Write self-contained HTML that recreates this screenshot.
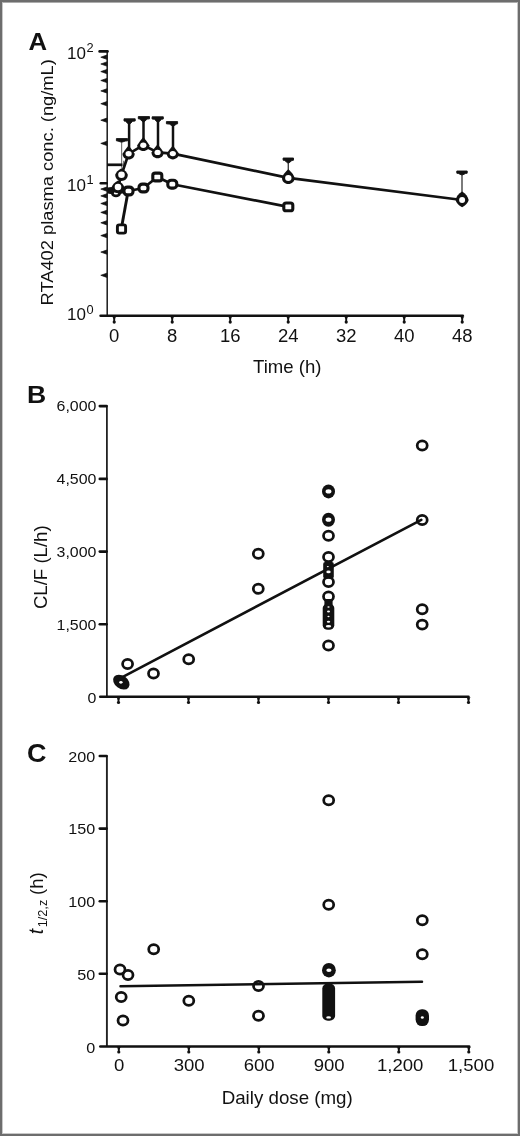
<!DOCTYPE html>
<html lang="en">
<head>
<meta charset="utf-8">
<title>Figure</title>
<style>
html,body{margin:0;padding:0;background:#fff;}
body{width:520px;height:1136px;overflow:hidden;position:relative;}
#frame{position:absolute;left:0;top:0;width:516px;height:1132px;border:2px solid #6d6d6d;background:#fff;}
#frame2{position:absolute;left:2px;top:2px;width:514px;height:1130px;border:1px solid #c8c8c8;border-top-color:#acacac;background:#fff;}
svg{position:absolute;left:0;top:0;display:block;}
</style>
</head>
<body>
<div id="frame"></div>
<div id="frame2"></div>
<svg width="520" height="1136" viewBox="0 0 520 1136">
<line x1="107.2" y1="50.5" x2="107.2" y2="315.8" stroke="#1a1a1a" stroke-width="1.5"/>
<line x1="100.6" y1="315.8" x2="462.8" y2="315.8" stroke="#111" stroke-width="2.6" stroke-linecap="round"/>
<line x1="99.6" y1="51.4" x2="107.5" y2="51.4" stroke="#111" stroke-width="2.6" stroke-linecap="round"/>
<line x1="100.8" y1="183.2" x2="106.6" y2="183.2" stroke="#111" stroke-width="2.6" stroke-linecap="round"/>
<polygon points="100.8,143.4 106.8,141.3 106.8,145.5" fill="#111" stroke="#111" stroke-width="0.7" stroke-linejoin="round"/>
<polygon points="100.8,120.2 106.8,118.1 106.8,122.3" fill="#111" stroke="#111" stroke-width="0.7" stroke-linejoin="round"/>
<polygon points="100.8,103.7 106.8,101.6 106.8,105.8" fill="#111" stroke="#111" stroke-width="0.7" stroke-linejoin="round"/>
<polygon points="100.8,90.9 106.8,88.8 106.8,93.0" fill="#111" stroke="#111" stroke-width="0.7" stroke-linejoin="round"/>
<polygon points="100.8,80.5 106.8,78.4 106.8,82.6" fill="#111" stroke="#111" stroke-width="0.7" stroke-linejoin="round"/>
<polygon points="100.8,71.6 106.8,69.5 106.8,73.7" fill="#111" stroke="#111" stroke-width="0.7" stroke-linejoin="round"/>
<polygon points="100.8,64.0 106.8,61.9 106.8,66.1" fill="#111" stroke="#111" stroke-width="0.7" stroke-linejoin="round"/>
<polygon points="100.8,57.2 106.8,55.1 106.8,59.3" fill="#111" stroke="#111" stroke-width="0.7" stroke-linejoin="round"/>
<polygon points="100.8,275.3 106.8,273.2 106.8,277.4" fill="#111" stroke="#111" stroke-width="0.7" stroke-linejoin="round"/>
<polygon points="100.8,252.1 106.8,250.0 106.8,254.2" fill="#111" stroke="#111" stroke-width="0.7" stroke-linejoin="round"/>
<polygon points="100.8,235.6 106.8,233.5 106.8,237.7" fill="#111" stroke="#111" stroke-width="0.7" stroke-linejoin="round"/>
<polygon points="100.8,222.8 106.8,220.7 106.8,224.9" fill="#111" stroke="#111" stroke-width="0.7" stroke-linejoin="round"/>
<polygon points="100.8,212.4 106.8,210.3 106.8,214.5" fill="#111" stroke="#111" stroke-width="0.7" stroke-linejoin="round"/>
<polygon points="100.8,203.5 106.8,201.4 106.8,205.6" fill="#111" stroke="#111" stroke-width="0.7" stroke-linejoin="round"/>
<polygon points="100.8,195.9 106.8,193.8 106.8,198.0" fill="#111" stroke="#111" stroke-width="0.7" stroke-linejoin="round"/>
<polygon points="100.8,189.1 106.8,187.0 106.8,191.2" fill="#111" stroke="#111" stroke-width="0.7" stroke-linejoin="round"/>
<path d="M111.9,316.7 Q113.3,317.0 113.3,318.8 L115.1,318.8 Q115.1,317.0 116.5,316.7Z" fill="#111"/><line x1="114.2" y1="315.8" x2="114.2" y2="322.1" stroke="#111" stroke-width="1.9"/><circle cx="114.2" cy="322.1" r="1.6" fill="#111"/>
<text transform="translate(114.2,342) scale(1.05,1)" font-size="17.6" text-anchor="middle" font-family="Liberation Sans, sans-serif" fill="#111" >0</text>
<path d="M169.9,316.7 Q171.3,317.0 171.3,318.8 L173.1,318.8 Q173.1,317.0 174.5,316.7Z" fill="#111"/><line x1="172.2" y1="315.8" x2="172.2" y2="322.1" stroke="#111" stroke-width="1.9"/><circle cx="172.2" cy="322.1" r="1.6" fill="#111"/>
<text transform="translate(172.2,342) scale(1.05,1)" font-size="17.6" text-anchor="middle" font-family="Liberation Sans, sans-serif" fill="#111" >8</text>
<path d="M227.9,316.7 Q229.3,317.0 229.3,318.8 L231.1,318.8 Q231.1,317.0 232.5,316.7Z" fill="#111"/><line x1="230.2" y1="315.8" x2="230.2" y2="322.1" stroke="#111" stroke-width="1.9"/><circle cx="230.2" cy="322.1" r="1.6" fill="#111"/>
<text transform="translate(230.2,342) scale(1.05,1)" font-size="17.6" text-anchor="middle" font-family="Liberation Sans, sans-serif" fill="#111" >16</text>
<path d="M285.9,316.7 Q287.3,317.0 287.3,318.8 L289.1,318.8 Q289.1,317.0 290.5,316.7Z" fill="#111"/><line x1="288.2" y1="315.8" x2="288.2" y2="322.1" stroke="#111" stroke-width="1.9"/><circle cx="288.2" cy="322.1" r="1.6" fill="#111"/>
<text transform="translate(288.2,342) scale(1.05,1)" font-size="17.6" text-anchor="middle" font-family="Liberation Sans, sans-serif" fill="#111" >24</text>
<path d="M343.9,316.7 Q345.3,317.0 345.3,318.8 L347.1,318.8 Q347.1,317.0 348.5,316.7Z" fill="#111"/><line x1="346.2" y1="315.8" x2="346.2" y2="322.1" stroke="#111" stroke-width="1.9"/><circle cx="346.2" cy="322.1" r="1.6" fill="#111"/>
<text transform="translate(346.2,342) scale(1.05,1)" font-size="17.6" text-anchor="middle" font-family="Liberation Sans, sans-serif" fill="#111" >32</text>
<path d="M401.9,316.7 Q403.3,317.0 403.3,318.8 L405.1,318.8 Q405.1,317.0 406.5,316.7Z" fill="#111"/><line x1="404.2" y1="315.8" x2="404.2" y2="322.1" stroke="#111" stroke-width="1.9"/><circle cx="404.2" cy="322.1" r="1.6" fill="#111"/>
<text transform="translate(404.2,342) scale(1.05,1)" font-size="17.6" text-anchor="middle" font-family="Liberation Sans, sans-serif" fill="#111" >40</text>
<path d="M459.9,316.7 Q461.3,317.0 461.3,318.8 L463.1,318.8 Q463.1,317.0 464.5,316.7Z" fill="#111"/><line x1="462.2" y1="315.8" x2="462.2" y2="322.1" stroke="#111" stroke-width="1.9"/><circle cx="462.2" cy="322.1" r="1.6" fill="#111"/>
<text transform="translate(462.2,342) scale(1.05,1)" font-size="17.6" text-anchor="middle" font-family="Liberation Sans, sans-serif" fill="#111" >48</text>
<text x="86.0" y="58.8" font-size="17" text-anchor="end" font-family="Liberation Sans, sans-serif" fill="#111">10</text>
<text x="86.6" y="52.0" font-size="12.8" text-anchor="start" font-family="Liberation Sans, sans-serif" fill="#111">2</text>
<text x="86.0" y="190.6" font-size="17" text-anchor="end" font-family="Liberation Sans, sans-serif" fill="#111">10</text>
<text x="86.6" y="183.8" font-size="12.8" text-anchor="start" font-family="Liberation Sans, sans-serif" fill="#111">1</text>
<text x="86.0" y="320.3" font-size="17" text-anchor="end" font-family="Liberation Sans, sans-serif" fill="#111">10</text>
<text x="86.6" y="313.8" font-size="12.8" text-anchor="start" font-family="Liberation Sans, sans-serif" fill="#111">0</text>
<text transform="translate(287.3,373.2) scale(1.045,1)" font-size="17.8" text-anchor="middle" font-family="Liberation Sans, sans-serif" fill="#111" >Time (h)</text>
<text transform="translate(53.3,305.5) rotate(-90) scale(1.052,1)" font-size="17.4" text-anchor="start" font-family="Liberation Sans, sans-serif" fill="#111" >RTA402 plasma conc. (ng/mL)</text>
<text transform="translate(28.4,50.4) scale(1.08,1)" font-size="23.8" text-anchor="start" font-family="Liberation Sans, sans-serif" fill="#111" font-weight="bold">A</text>
<line x1="123.6" y1="160.8" x2="123.6" y2="168.8" stroke="#777" stroke-width="1.2"/>
<line x1="121.6" y1="139.8" x2="121.6" y2="167.8" stroke="#777" stroke-width="1.2"/>
<line x1="129.1" y1="120" x2="129.1" y2="153.8" stroke="#111" stroke-width="2.5"/>
<line x1="143.5" y1="117.8" x2="143.5" y2="145.2" stroke="#111" stroke-width="2.5"/>
<line x1="158.0" y1="118" x2="158.0" y2="152.4" stroke="#111" stroke-width="2.5"/>
<line x1="173.0" y1="122.8" x2="173.0" y2="153.6" stroke="#111" stroke-width="2.5"/>
<line x1="288.3" y1="159.2" x2="288.3" y2="177.9" stroke="#444" stroke-width="1.4"/>
<line x1="462.0" y1="172.2" x2="462.0" y2="200.0" stroke="#444" stroke-width="1.4"/>
<line x1="107" y1="164.8" x2="122.5" y2="164.8" stroke="#111" stroke-width="2.7"/>
<polygon points="116.4,138.60000000000002 127.6,138.60000000000002 127.6,140.8 125.19999999999999,141.10000000000002 122.39999999999999,142.0 120.8,142.0 118.0,141.10000000000002 116.4,140.8" fill="#111" stroke="#111" stroke-width="0.9" stroke-linejoin="round"/>
<polygon points="124.0,118.8 135.2,118.8 135.2,121.0 132.7,121.3 129.9,123.9 128.29999999999998,123.9 125.5,121.3 124.0,121.0" fill="#111" stroke="#111" stroke-width="0.9" stroke-linejoin="round"/>
<polygon points="138.3,116.6 149.5,116.6 149.5,118.8 147.1,119.1 144.3,121.7 142.7,121.7 139.9,119.1 138.3,118.8" fill="#111" stroke="#111" stroke-width="0.9" stroke-linejoin="round"/>
<polygon points="152.1,116.8 163.29999999999998,116.8 163.29999999999998,119.0 161.6,119.3 158.8,121.9 157.2,121.9 154.4,119.3 152.1,119.0" fill="#111" stroke="#111" stroke-width="0.9" stroke-linejoin="round"/>
<polygon points="166.4,121.6 177.6,121.6 177.6,123.8 176.6,124.1 173.8,125.8 172.2,125.8 169.4,124.1 166.4,123.8" fill="#111" stroke="#111" stroke-width="0.9" stroke-linejoin="round"/>
<polygon points="283.1,158.0 293.5,158.0 293.5,160.2 291.90000000000003,160.5 289.1,162.79999999999998 287.5,162.79999999999998 284.7,160.5 283.1,160.2" fill="#111" stroke="#111" stroke-width="0.9" stroke-linejoin="round"/>
<polygon points="456.8,171.0 467.2,171.0 467.2,173.2 465.6,173.5 462.8,174.79999999999998 461.2,174.79999999999998 458.4,173.5 456.8,173.2" fill="#111" stroke="#111" stroke-width="0.9" stroke-linejoin="round"/>
<polyline points="107.5,189.5 118,187 121.5,174.8 128.6,153.8 143.3,145.2 157.6,152.4 172.8,153.6 288.3,177.9 462.1,200.0" fill="none" stroke="#111" stroke-width="2.7" stroke-linejoin="round"/>
<polyline points="107.5,191.5 116,193.3 128.5,191 143.5,188 157.3,177 172.3,184.2 288.3,206.9" fill="none" stroke="#111" stroke-width="2.7" stroke-linejoin="round"/>
<line x1="121.8" y1="226" x2="127.6" y2="194" stroke="#111" stroke-width="2.9"/>
<polygon points="107.5,187.5 116,187 118,195 107.5,193.5" fill="#111"/>
<ellipse cx="116" cy="193.3" rx="3.6" ry="2.6" fill="#fff" stroke="#111" stroke-width="2.8"/>
<rect x="117.4" y="224.9" width="8.2" height="8.2" rx="1.8" ry="1.8" fill="#fff" stroke="#111" stroke-width="2.9"/>
<rect x="124.0" y="187.1" width="9.0" height="7.8" rx="3.4" ry="3.1" fill="#fff" stroke="#111" stroke-width="3.1"/>
<rect x="139.0" y="184.1" width="9.0" height="7.8" rx="3.4" ry="3.1" fill="#fff" stroke="#111" stroke-width="3.1"/>
<rect x="152.8" y="173.1" width="9.0" height="7.8" rx="2.4" ry="2.1" fill="#fff" stroke="#111" stroke-width="3.1"/>
<rect x="167.8" y="180.29999999999998" width="9.0" height="7.8" rx="3.4" ry="3.1" fill="#fff" stroke="#111" stroke-width="3.1"/>
<rect x="283.8" y="203.0" width="9.0" height="7.8" rx="2.4" ry="2.1" fill="#fff" stroke="#111" stroke-width="3.1"/>
<path d="M111.70,187.00 Q112.96,183.04 118,180.40 Q123.04,183.04 124.30,187.00 C124.30,190.60 121.53,193.20 118,193.20 C114.47,193.20 111.70,190.60 111.70,187.00Z" fill="#111"/><ellipse cx="118" cy="187" rx="3.3" ry="3.2" fill="#fff"/>
<path d="M115.20,174.80 Q116.46,170.84 121.5,168.20 Q126.54,170.84 127.80,174.80 C127.80,178.40 125.03,181.00 121.5,181.00 C117.97,181.00 115.20,178.40 115.20,174.80Z" fill="#111"/><ellipse cx="121.5" cy="174.8" rx="3.3" ry="3.2" fill="#fff"/>
<path d="M122.50,153.80 Q124.57,150.36 128.6,145.60 Q132.63,150.36 134.70,153.80 C134.70,157.16 132.02,159.60 128.6,159.60 C125.18,159.60 122.50,157.16 122.50,153.80Z" fill="#111"/><ellipse cx="128.6" cy="153.8" rx="3.1" ry="2.7" fill="#fff"/>
<path d="M137.20,145.20 Q139.27,141.76 143.3,137.00 Q147.33,141.76 149.40,145.20 C149.40,148.56 146.72,151.00 143.3,151.00 C139.88,151.00 137.20,148.56 137.20,145.20Z" fill="#111"/><ellipse cx="143.3" cy="145.2" rx="3.1" ry="2.7" fill="#fff"/>
<path d="M151.50,152.40 Q153.57,148.96 157.6,144.20 Q161.63,148.96 163.70,152.40 C163.70,155.76 161.02,158.20 157.6,158.20 C154.18,158.20 151.50,155.76 151.50,152.40Z" fill="#111"/><ellipse cx="157.6" cy="152.4" rx="3.1" ry="2.7" fill="#fff"/>
<path d="M166.70,153.60 Q168.77,150.16 172.8,145.40 Q176.83,150.16 178.90,153.60 C178.90,156.96 176.22,159.40 172.8,159.40 C169.38,159.40 166.70,156.96 166.70,153.60Z" fill="#111"/><ellipse cx="172.8" cy="153.6" rx="3.1" ry="2.7" fill="#fff"/>
<path d="M282.00,177.90 Q283.26,173.60 288.3,169.30 Q293.34,173.60 294.60,177.90 C294.60,181.38 291.83,183.90 288.3,183.90 C284.77,183.90 282.00,181.38 282.00,177.90Z" fill="#111"/><ellipse cx="288.3" cy="177.9" rx="3.2" ry="3.0" fill="#fff"/>
<path d="M455.50,200.00 Q456.69,194.96 462.1,191.60 Q467.51,194.96 468.70,200.00 Q467.51,204.32 462.1,207.20 Q456.69,204.32 455.50,200.00Z" fill="#111"/><ellipse cx="462.1" cy="200.0" rx="3.0" ry="3.0" fill="#fff"/>
<line x1="106.9" y1="405.6" x2="106.9" y2="697" stroke="#222" stroke-width="1.8"/>
<line x1="100.2" y1="696.75" x2="468.5" y2="696.75" stroke="#111" stroke-width="2.5" stroke-linecap="round"/>
<text transform="translate(96.4,703.0) scale(1.07,1)" font-size="14.9" text-anchor="end" font-family="Liberation Sans, sans-serif" fill="#111" >0</text>
<line x1="99.8" y1="624.3" x2="106.6" y2="624.3" stroke="#111" stroke-width="2.6" stroke-linecap="round"/>
<text transform="translate(96.4,630.0) scale(1.07,1)" font-size="14.9" text-anchor="end" font-family="Liberation Sans, sans-serif" fill="#111" >1,500</text>
<line x1="99.8" y1="551.6" x2="106.6" y2="551.6" stroke="#111" stroke-width="2.6" stroke-linecap="round"/>
<text transform="translate(96.4,557.1) scale(1.07,1)" font-size="14.9" text-anchor="end" font-family="Liberation Sans, sans-serif" fill="#111" >3,000</text>
<line x1="99.8" y1="478.9" x2="106.6" y2="478.9" stroke="#111" stroke-width="2.6" stroke-linecap="round"/>
<text transform="translate(96.4,484.1) scale(1.07,1)" font-size="14.9" text-anchor="end" font-family="Liberation Sans, sans-serif" fill="#111" >4,500</text>
<line x1="99.8" y1="406.1" x2="106.6" y2="406.1" stroke="#111" stroke-width="2.6" stroke-linecap="round"/>
<text transform="translate(96.4,411.2) scale(1.07,1)" font-size="14.9" text-anchor="end" font-family="Liberation Sans, sans-serif" fill="#111" >6,000</text>
<path d="M116.2,697.6 Q117.6,698.0 117.6,699.8 L119.4,699.8 Q119.4,698.0 120.8,697.6Z" fill="#111"/><line x1="118.5" y1="696.8" x2="118.5" y2="702.5" stroke="#111" stroke-width="1.9"/><circle cx="118.5" cy="702.5" r="1.6" fill="#111"/>
<path d="M186.2,697.6 Q187.6,698.0 187.6,699.8 L189.4,699.8 Q189.4,698.0 190.8,697.6Z" fill="#111"/><line x1="188.5" y1="696.8" x2="188.5" y2="702.5" stroke="#111" stroke-width="1.9"/><circle cx="188.5" cy="702.5" r="1.6" fill="#111"/>
<path d="M256.2,697.6 Q257.6,698.0 257.6,699.8 L259.4,699.8 Q259.4,698.0 260.8,697.6Z" fill="#111"/><line x1="258.5" y1="696.8" x2="258.5" y2="702.5" stroke="#111" stroke-width="1.9"/><circle cx="258.5" cy="702.5" r="1.6" fill="#111"/>
<path d="M326.2,697.6 Q327.6,698.0 327.6,699.8 L329.4,699.8 Q329.4,698.0 330.8,697.6Z" fill="#111"/><line x1="328.5" y1="696.8" x2="328.5" y2="702.5" stroke="#111" stroke-width="1.9"/><circle cx="328.5" cy="702.5" r="1.6" fill="#111"/>
<path d="M396.2,697.6 Q397.6,698.0 397.6,699.8 L399.4,699.8 Q399.4,698.0 400.8,697.6Z" fill="#111"/><line x1="398.5" y1="696.8" x2="398.5" y2="702.5" stroke="#111" stroke-width="1.9"/><circle cx="398.5" cy="702.5" r="1.6" fill="#111"/>
<path d="M466.2,697.6 Q467.6,698.0 467.6,699.8 L469.4,699.8 Q469.4,698.0 470.8,697.6Z" fill="#111"/><line x1="468.5" y1="696.8" x2="468.5" y2="702.5" stroke="#111" stroke-width="1.9"/><circle cx="468.5" cy="702.5" r="1.6" fill="#111"/>
<text transform="translate(47,609.1) rotate(-90) scale(1.058,1)" font-size="17.6" text-anchor="start" font-family="Liberation Sans, sans-serif" fill="#111" >CL/F (L/h)</text>
<text transform="translate(26.9,403.1) scale(1.08,1)" font-size="24.6" text-anchor="start" font-family="Liberation Sans, sans-serif" fill="#111" font-weight="bold">B</text>
<line x1="120.5" y1="678.1" x2="421.3" y2="519.8" stroke="#111" stroke-width="2.6" stroke-linecap="round"/>
<ellipse cx="121.3" cy="682.1" rx="9.0" ry="6.5" transform="rotate(36 121.3 682.1)" fill="#111"/>
<ellipse cx="120.9" cy="682.3" rx="1.7" ry="1.4" fill="#fff"/>
<ellipse cx="328.5" cy="491.4" rx="6.5" ry="7.0" fill="#111"/><ellipse cx="328.5" cy="491.4" rx="2.9" ry="2.1" fill="#fff"/>
<ellipse cx="328.5" cy="519.7" rx="6.5" ry="7.0" fill="#111"/><ellipse cx="328.5" cy="519.7" rx="2.9" ry="2.1" fill="#fff"/>
<ellipse cx="127.6" cy="664.0" rx="5.0" ry="4.6" fill="none" stroke="#111" stroke-width="2.75"/>
<ellipse cx="153.5" cy="673.5" rx="5.0" ry="4.6" fill="none" stroke="#111" stroke-width="2.75"/>
<ellipse cx="188.7" cy="659.3" rx="5.0" ry="4.6" fill="none" stroke="#111" stroke-width="2.75"/>
<ellipse cx="258.3" cy="553.7" rx="5.0" ry="4.6" fill="none" stroke="#111" stroke-width="2.75"/>
<ellipse cx="258.3" cy="588.8" rx="5.0" ry="4.6" fill="none" stroke="#111" stroke-width="2.75"/>
<ellipse cx="328.5" cy="535.8" rx="5.0" ry="4.6" fill="none" stroke="#111" stroke-width="2.75"/>
<ellipse cx="328.5" cy="557.0" rx="5.0" ry="4.6" fill="none" stroke="#111" stroke-width="2.75"/>
<ellipse cx="328.5" cy="582.0" rx="5.0" ry="4.6" fill="none" stroke="#111" stroke-width="2.75"/>
<ellipse cx="328.5" cy="596.4" rx="5.0" ry="4.6" fill="none" stroke="#111" stroke-width="2.75"/>
<ellipse cx="328.5" cy="645.5" rx="5.0" ry="4.6" fill="none" stroke="#111" stroke-width="2.75"/>
<ellipse cx="422.2" cy="445.5" rx="5.0" ry="4.6" fill="none" stroke="#111" stroke-width="2.75"/>
<ellipse cx="422.2" cy="520.0" rx="5.0" ry="4.6" fill="none" stroke="#111" stroke-width="2.75"/>
<ellipse cx="422.2" cy="609.2" rx="5.0" ry="4.6" fill="none" stroke="#111" stroke-width="2.75"/>
<ellipse cx="422.2" cy="624.6" rx="5.0" ry="4.6" fill="none" stroke="#111" stroke-width="2.75"/>
<rect x="323.2" y="562" width="10.6" height="16.5" rx="2" fill="#111"/>
<ellipse cx="327.8" cy="566.6" rx="1.0" ry="0.6" fill="#fff"/>
<ellipse cx="328.5" cy="571.9" rx="2.2" ry="1.3" fill="#fff"/>
<rect x="324.4" y="599" width="8.2" height="8" fill="#111"/>
<rect x="322.7" y="603.6" width="11.6" height="26.2" rx="5" ry="4.5" fill="#111"/>
<ellipse cx="328.5" cy="607" rx="1.2" ry="0.75" fill="#fff"/>
<ellipse cx="328.5" cy="611.4" rx="1.5" ry="1.0" fill="#fff"/>
<ellipse cx="328.5" cy="616.6" rx="1.1" ry="0.75" fill="#fff"/>
<ellipse cx="328.5" cy="621.8" rx="1.7" ry="1.0" fill="#fff"/>
<ellipse cx="328.5" cy="626.2" rx="2.7" ry="1.3" fill="#fff"/>
<line x1="106.9" y1="755.5" x2="106.9" y2="1046" stroke="#222" stroke-width="1.9"/>
<line x1="100.3" y1="1046.4" x2="469.2" y2="1046.4" stroke="#111" stroke-width="2.5" stroke-linecap="round"/>
<text transform="translate(95.3,1052.7) scale(1.07,1)" font-size="15.1" text-anchor="end" font-family="Liberation Sans, sans-serif" fill="#111" >0</text>
<line x1="99.8" y1="973.8" x2="106.6" y2="973.8" stroke="#111" stroke-width="2.6" stroke-linecap="round"/>
<text transform="translate(95.3,979.9) scale(1.07,1)" font-size="15.1" text-anchor="end" font-family="Liberation Sans, sans-serif" fill="#111" >50</text>
<line x1="99.8" y1="901.2" x2="106.6" y2="901.2" stroke="#111" stroke-width="2.6" stroke-linecap="round"/>
<text transform="translate(95.3,907.1) scale(1.07,1)" font-size="15.1" text-anchor="end" font-family="Liberation Sans, sans-serif" fill="#111" >100</text>
<line x1="99.8" y1="828.6" x2="106.6" y2="828.6" stroke="#111" stroke-width="2.6" stroke-linecap="round"/>
<text transform="translate(95.3,834.3) scale(1.07,1)" font-size="15.1" text-anchor="end" font-family="Liberation Sans, sans-serif" fill="#111" >150</text>
<line x1="99.8" y1="756.0" x2="106.6" y2="756.0" stroke="#111" stroke-width="2.6" stroke-linecap="round"/>
<text transform="translate(95.3,761.5) scale(1.07,1)" font-size="15.1" text-anchor="end" font-family="Liberation Sans, sans-serif" fill="#111" >200</text>
<path d="M116.5,1047.3 Q117.9,1047.6 117.9,1049.4 L119.7,1049.4 Q119.7,1047.6 121.1,1047.3Z" fill="#111"/><line x1="118.8" y1="1046.4" x2="118.8" y2="1052.1" stroke="#111" stroke-width="1.9"/><circle cx="118.8" cy="1052.0" r="1.6" fill="#111"/>
<text transform="translate(119.2,1071.3) scale(1.08,1)" font-size="17.2" text-anchor="middle" font-family="Liberation Sans, sans-serif" fill="#111" >0</text>
<path d="M186.5,1047.3 Q187.9,1047.6 187.9,1049.4 L189.7,1049.4 Q189.7,1047.6 191.1,1047.3Z" fill="#111"/><line x1="188.8" y1="1046.4" x2="188.8" y2="1052.1" stroke="#111" stroke-width="1.9"/><circle cx="188.8" cy="1052.0" r="1.6" fill="#111"/>
<text transform="translate(189.2,1071.3) scale(1.08,1)" font-size="17.2" text-anchor="middle" font-family="Liberation Sans, sans-serif" fill="#111" >300</text>
<path d="M256.5,1047.3 Q257.9,1047.6 257.9,1049.4 L259.7,1049.4 Q259.7,1047.6 261.1,1047.3Z" fill="#111"/><line x1="258.8" y1="1046.4" x2="258.8" y2="1052.1" stroke="#111" stroke-width="1.9"/><circle cx="258.8" cy="1052.0" r="1.6" fill="#111"/>
<text transform="translate(259.2,1071.3) scale(1.08,1)" font-size="17.2" text-anchor="middle" font-family="Liberation Sans, sans-serif" fill="#111" >600</text>
<path d="M326.5,1047.3 Q327.9,1047.6 327.9,1049.4 L329.7,1049.4 Q329.7,1047.6 331.1,1047.3Z" fill="#111"/><line x1="328.8" y1="1046.4" x2="328.8" y2="1052.1" stroke="#111" stroke-width="1.9"/><circle cx="328.8" cy="1052.0" r="1.6" fill="#111"/>
<text transform="translate(329.2,1071.3) scale(1.08,1)" font-size="17.2" text-anchor="middle" font-family="Liberation Sans, sans-serif" fill="#111" >900</text>
<path d="M396.5,1047.3 Q397.9,1047.6 397.9,1049.4 L399.7,1049.4 Q399.7,1047.6 401.1,1047.3Z" fill="#111"/><line x1="398.8" y1="1046.4" x2="398.8" y2="1052.1" stroke="#111" stroke-width="1.9"/><circle cx="398.8" cy="1052.0" r="1.6" fill="#111"/>
<text transform="translate(400.2,1071.3) scale(1.08,1)" font-size="17.2" text-anchor="middle" font-family="Liberation Sans, sans-serif" fill="#111" >1,200</text>
<path d="M466.5,1047.3 Q467.9,1047.6 467.9,1049.4 L469.7,1049.4 Q469.7,1047.6 471.1,1047.3Z" fill="#111"/><line x1="468.8" y1="1046.4" x2="468.8" y2="1052.1" stroke="#111" stroke-width="1.9"/><circle cx="468.8" cy="1052.0" r="1.6" fill="#111"/>
<text transform="translate(471.0,1071.3) scale(1.08,1)" font-size="17.2" text-anchor="middle" font-family="Liberation Sans, sans-serif" fill="#111" >1,500</text>
<text transform="translate(287.2,1104.4) scale(1.036,1)" font-size="18.1" text-anchor="middle" font-family="Liberation Sans, sans-serif" fill="#111" >Daily dose (mg)</text>
<text transform="translate(42.6,934.2) rotate(-90)" font-size="19.5" text-anchor="start" font-family="Liberation Sans, sans-serif" fill="#111" font-style="italic">t</text>
<text transform="translate(46.8,927.3) rotate(-90) scale(0.95,1)" font-size="13.4" text-anchor="start" font-family="Liberation Sans, sans-serif" fill="#111" >1/2,z</text>
<text transform="translate(42.6,895.0) rotate(-90) scale(1.04,1)" font-size="17.8" text-anchor="start" font-family="Liberation Sans, sans-serif" fill="#111" >(h)</text>
<text transform="translate(26.9,761.7) scale(1.07,1)" font-size="25.2" text-anchor="start" font-family="Liberation Sans, sans-serif" fill="#111" font-weight="bold">C</text>
<line x1="120.5" y1="986.3" x2="422" y2="981.8" stroke="#111" stroke-width="2.5" stroke-linecap="round"/>
<rect x="322.3" y="983.5" width="12.8" height="37.2" rx="5.5" ry="5" fill="#111"/>
<ellipse cx="328.6" cy="1017.4" rx="2.4" ry="1.2" fill="#fff"/>
<rect x="415.6" y="1009.2" width="13.4" height="16.8" rx="6.2" ry="6.4" fill="#111"/>
<ellipse cx="328.9" cy="970.2" rx="6.9" ry="7.3" fill="#111"/><ellipse cx="328.9" cy="970.2" rx="2.6" ry="1.8" fill="#fff"/>
<ellipse cx="422.3" cy="1017.5" rx="1.5" ry="1.3" fill="#fff"/>
<ellipse cx="153.7" cy="949.3" rx="5.0" ry="4.6" fill="none" stroke="#111" stroke-width="2.75"/>
<ellipse cx="120.0" cy="969.5" rx="5.0" ry="4.6" fill="none" stroke="#111" stroke-width="2.75"/>
<ellipse cx="128.0" cy="975.0" rx="5.0" ry="4.6" fill="none" stroke="#111" stroke-width="2.75"/>
<ellipse cx="121.2" cy="997.0" rx="5.0" ry="4.6" fill="none" stroke="#111" stroke-width="2.75"/>
<ellipse cx="123.0" cy="1020.5" rx="5.0" ry="4.6" fill="none" stroke="#111" stroke-width="2.75"/>
<ellipse cx="188.8" cy="1000.8" rx="5.0" ry="4.6" fill="none" stroke="#111" stroke-width="2.75"/>
<ellipse cx="258.5" cy="986.0" rx="5.0" ry="4.6" fill="none" stroke="#111" stroke-width="2.75"/>
<ellipse cx="258.5" cy="1015.7" rx="5.0" ry="4.6" fill="none" stroke="#111" stroke-width="2.75"/>
<ellipse cx="328.7" cy="800.3" rx="5.0" ry="4.6" fill="none" stroke="#111" stroke-width="2.75"/>
<ellipse cx="328.7" cy="904.8" rx="5.0" ry="4.6" fill="none" stroke="#111" stroke-width="2.75"/>
<ellipse cx="422.3" cy="920.2" rx="5.0" ry="4.6" fill="none" stroke="#111" stroke-width="2.75"/>
<ellipse cx="422.3" cy="954.2" rx="5.0" ry="4.6" fill="none" stroke="#111" stroke-width="2.75"/>
</svg>
</body>
</html>
